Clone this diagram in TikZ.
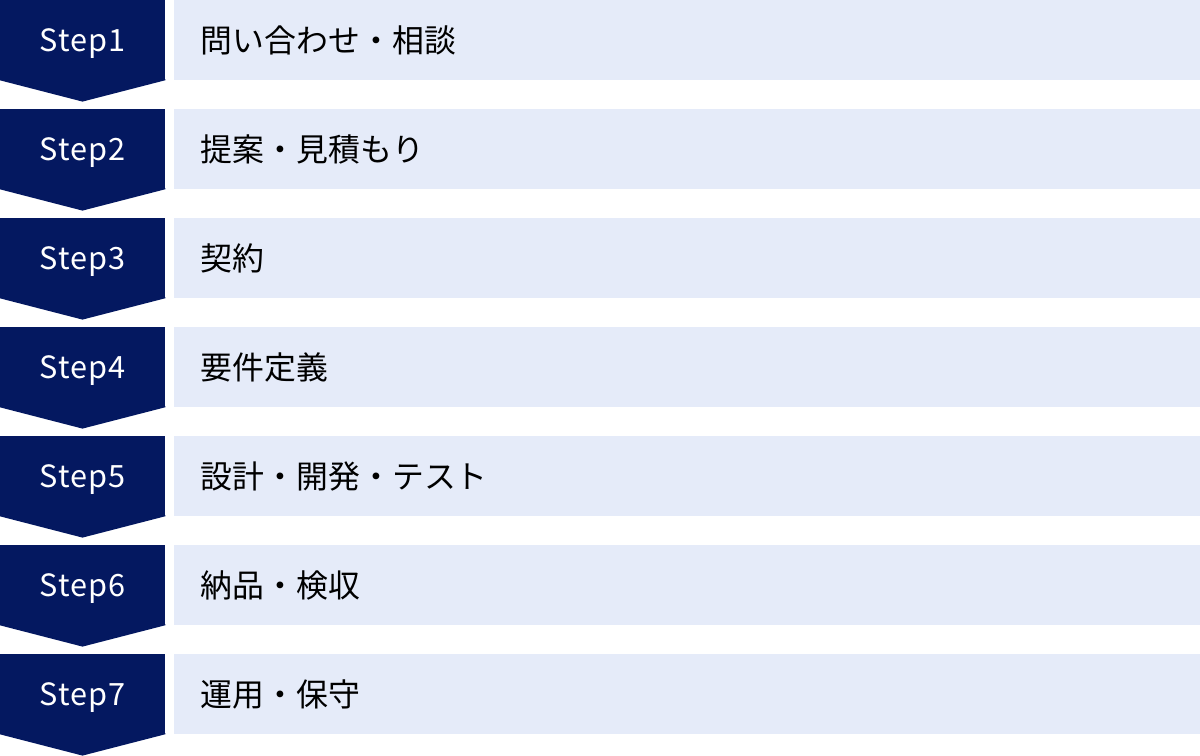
\documentclass[tikz,border=0pt]{standalone}
\usepackage{fontspec}
\setmainfont{Noto Sans CJK JP}
\newfontfamily\stepfont[LetterSpace=3]{Noto Sans CJK JP}
\usetikzlibrary{calc}
\definecolor{navy}{RGB}{4,24,96}
\definecolor{lightblue}{RGB}{229,235,249}
\tikzset{
  stepbox/.style={fill=navy, text=white, inner sep=0pt, minimum width=123.75pt, minimum height=60pt, text height=16.8pt, text depth=0pt, font=\stepfont\fontsize{23}{27}\selectfont},
  taskbox/.style={fill=lightblue, text=black, anchor=west, inner ysep=0pt, inner xsep=20pt, text width=729.5pt, align=left, minimum height=60pt, text height=18.2pt, text depth=0pt, font=\fontsize{23.9}{28}\selectfont},
}
\newcommand{\steptip}[1]{\fill[navy] ($(#1.south west)+(0,0.8pt)$) -- ($(#1.south east)+(0,0.8pt)$) -- (#1.south east) -- ($(#1.south)+(0,-16pt)$) -- (#1.south west) -- cycle;}
\begin{document}
\begin{tikzpicture}[x=0.75pt, y=-0.75pt]
\useasboundingbox (0,0) rectangle (1200,756);

\node[stepbox] (s1) at (82.5,40) {Step1};
\node[stepbox] (s2) at (82.5,149) {Step2};
\node[stepbox] (s3) at (82.5,258) {Step3};
\node[stepbox] (s4) at (82.5,367) {Step4};
\node[stepbox] (s5) at (82.5,476) {Step5};
\node[stepbox] (s6) at (82.5,585) {Step6};
\node[stepbox] (s7) at (82.5,694) {Step7};

\steptip{s1}
\steptip{s2}
\steptip{s3}
\steptip{s4}
\steptip{s5}
\steptip{s6}
\steptip{s7}

\node[taskbox] (t1) at (174,40) {問い合わせ・相談};
\node[taskbox] (t2) at (174,149) {提案・見積もり};
\node[taskbox] (t3) at (174,258) {契約};
\node[taskbox] (t4) at (174,367) {要件定義};
\node[taskbox] (t5) at (174,476) {設計・開発・テスト};
\node[taskbox] (t6) at (174,585) {納品・検収};
\node[taskbox] (t7) at (174,694) {運用・保守};
\end{tikzpicture}
\end{document}
